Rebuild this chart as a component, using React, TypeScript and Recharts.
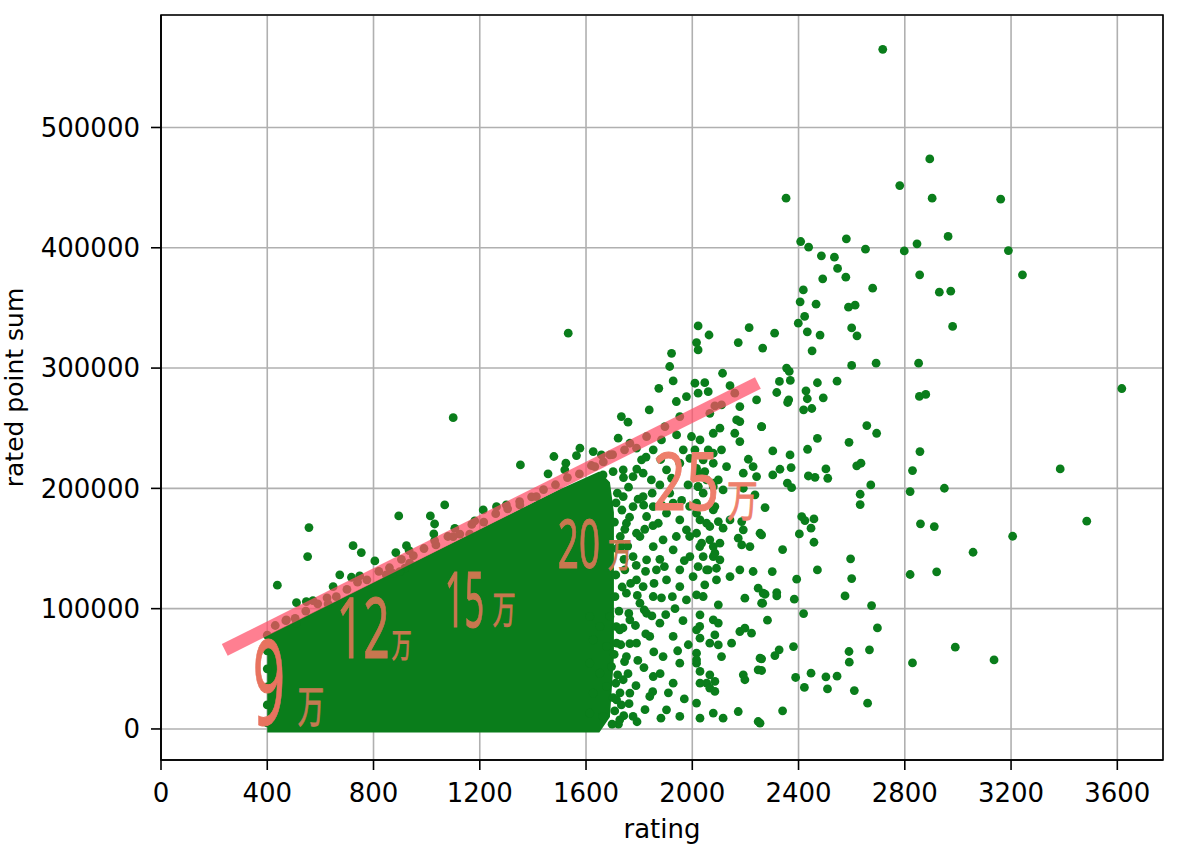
import React from "react";
import {
  ComposedChart,
  Area,
  Scatter,
  XAxis,
  YAxis,
  CartesianGrid,
  ReferenceLine,
  ReferenceArea,
  ReferenceDot,
} from "recharts";

const xTicks = [0, 400, 800, 1200, 1600, 2000, 2400, 2800, 3200, 3600];
const yTicks = [0, 100000, 200000, 300000, 400000, 500000];

// solid part of the cloud (too dense to see single dots)
const coreRatings = [400, 500, 600, 700, 800, 900, 1000, 1100, 1200, 1300, 1400, 1500, 1600, 1650, 1690, 1705];
const coreLow = [-3000, -3000, -3000, -3000, -3000, -3000, -3000, -3000, -3000, -3000, -3000, -3000, -3000, -3000, 10000, 60000];
const coreHigh = [78000, 89000, 100000, 111000, 122000, 133000, 144000, 155000, 166000, 177000, 188000, 199000, 209000, 214000, 205000, 180000];

// points along the edge of the dense cloud and the outliers above it
const leftPoints: [number, number][] = [
  [400, 5000], [400, 20000], [400, 35000], [400, 50000], [400, 65000], [400, 78000],
  [430, 86000], [470, 90000], [505, 92000], [545, 98000], [590, 104000], [625, 109000],
  [660, 110000], [700, 116000], [740, 122000], [775, 124000], [820, 131000], [860, 134000],
  [905, 141000], [950, 144000], [990, 150000], [1035, 153000], [1080, 160000], [1125, 162000],
  [1170, 170000], [1215, 172000], [1260, 179000], [1305, 183000], [1350, 189000], [1395, 193000],
  [1440, 199000], [1485, 203000], [1530, 209000], [1575, 212000], [1620, 219000], [1665, 222000],
  [1700, 228000], [1745, 232000],
  [1100, 258800], [1068, 186200], [895, 177100], [1014, 177100], [1030, 170400], [1027, 162100],
  [1030, 156600], [557, 167400], [552, 143300], [438, 119500], [723, 152400], [754, 146600],
  [805, 139700], [884, 146600], [924, 152400], [934, 148300], [936, 137800], [918, 133600],
  [1106, 166800], [1100, 159900], [1162, 161900], [1181, 172900], [1213, 182100], [1263, 184800],
  [1300, 186200], [1351, 186200], [1413, 193200], [648, 118400], [673, 128100], [717, 126100],
  [748, 127200], [510, 105100], [547, 105900], [572, 106700], [629, 103900], [472, 90700],
  [510, 87900], [848, 128100], [874, 129400], [899, 130800],
  [1353, 219500], [1457, 212100], [1524, 220900], [1520, 215400], [1479, 226500], [1564, 227300],
  [1577, 233400], [1533, 329000],
];

// the looser band between about 1600 and 2250
const midPoints: [number, number][] = [
  [1627, 230600], [1658, 227800], [1690, 227800], [1721, 241700], [1765, 237500], [1790, 233400],
  [1828, 243100], [1853, 232000], [1884, 240300], [1941, 244400], [1966, 232000], [1997, 243100],
  [1953, 220900], [1991, 225000], [2060, 232000], [2079, 220900], [1809, 223700], [1815, 212600],
  [1777, 209800], [1740, 215400], [1702, 214000], [1664, 211200], [1633, 218100], [1903, 215400],
  [1922, 208400], [1878, 202900], [1846, 207000], [2022, 212600], [2054, 207000], [2079, 201500],
  [2022, 201500], [1984, 202900],
  [1815, 193200], [1853, 184900], [1828, 176600], [1872, 171000], [1903, 179400], [1928, 187700],
  [1953, 173800], [1978, 165500], [2016, 179400], [2054, 171000], [2085, 184900], [2066, 157200],
  [2028, 151600], [1991, 143300], [1953, 132300], [1928, 148900], [1890, 157200], [1853, 151600],
  [1828, 140600], [1865, 132300], [1903, 123900], [1953, 118400], [2003, 126700], [2054, 132300],
  [2091, 123900], [2041, 110100], [1978, 107300], [1815, 118400], [1853, 110100], [2079, 143300],
  [1803, 160000],
  [1740, 193200], [1777, 184900], [1752, 171000], [1790, 162700], [1733, 151600], [1777, 143300],
  [1746, 132300], [1790, 123900], [1752, 112900], [1803, 104600],
  [1762, 21000], [1758, 46000], [1765, 71000], [1761, 96000], [1768, 121000], [1757, 152000],
  [1764, 176000], [1760, 201000], [1792, 6000], [1788, 36000], [1795, 57000], [1786, 86000],
  [1793, 111000], [1789, 136000], [1796, 191000], [1791, 216000], [1822, 16000], [1818, 51000],
  [1825, 79000], [1819, 99000], [1824, 131000], [1821, 166000], [1817, 186000], [1826, 226000],
  [1851, 31000], [1855, 64000], [1848, 94000], [1856, 121000], [1852, 169000], [1849, 196000],
  [1882, 9000], [1879, 46000], [1884, 109000], [1878, 141000], [1885, 186000], [1881, 224000],
  [1742, 11000], [1745, 56000], [1739, 84000], [1743, 141000], [1746, 166000], [1741, 209000],
  [1722, 4000], [1728, 30000], [1719, 45000], [1724, 98000], [1712, 128000], [1718, 196000],
  [1708, 15000], [1712, 38000], [1706, 62000], [1714, 85000], [1709, 110000], [1716, 150000],
  [1707, 172000], [1713, 188000], [1733, 20000], [1731, 70000], [1736, 118000], [1729, 160000],
  [1735, 182000], [1698, 4000], [1702, 26000],
  [1900, 95000], [1935, 100000], [1965, 90000], [1990, 160000], [1915, 196000], [1960, 190000],
  [1990, 185000], [1940, 160000], [1895, 135000], [1970, 140000], [1925, 110000], [1985, 70000],
  [1945, 65000], [1910, 30000], [1970, 25000],
  [1614, 93500], [1652, 85200], [1690, 93500], [1727, 82400], [1765, 90700], [1627, 74100],
  [1677, 68600], [1715, 71300], [1752, 60200], [1790, 71300], [1614, 54700], [1652, 46400],
  [1696, 51900], [1740, 40900], [1627, 29800], [1677, 35300], [1715, 24200], [1765, 29800],
  [1614, 13200], [1664, 10400], [1727, 7600], [1777, 10400], [1828, 96200], [1878, 87900],
  [1840, 76900], [1928, 76900], [1890, 60200], [1953, 54700], [1853, 43600], [1928, 38100],
  [1840, 27000], [1903, 15900], [1953, 10400], [2028, 85200], [2066, 71300], [2016, 54700],
  [2054, 38100], [2016, 21500], [2079, 13200],
  [1922, 312300], [1915, 301300], [1928, 289300], [1874, 283200], [1940, 272200], [1838, 265200],
  [1733, 259700], [1758, 255000], [1897, 251400], [1978, 276300], [1953, 259700],
  [2022, 335000], [2063, 327500], [2016, 321200], [2022, 315100], [2173, 321200], [2214, 333600],
  [2114, 295700], [2010, 287400], [2047, 287900], [2022, 279100], [2060, 280400], [2142, 285400],
  [2160, 279100], [2085, 268500], [2110, 269400], [2066, 262400], [2242, 273500], [2179, 268000],
  [2167, 256900], [2179, 255500], [2261, 251400], [2160, 245800], [2179, 238900], [2104, 250000],
  [2079, 245800], [2029, 240300], [2010, 232000], [2110, 232000], [2079, 229200], [2041, 223700],
  [2016, 216700], [2211, 224200], [2229, 218100], [2242, 209800], [2192, 212600], [2129, 218100],
  [2047, 214000], [2079, 204300], [2098, 207000], [2022, 201500], [2041, 196000], [2116, 198700],
  [2236, 194600], [2192, 200100], [2016, 187700], [2079, 182100], [2029, 173800], [2066, 168300],
  [2098, 172400], [2116, 166900], [2142, 173800], [2186, 172400], [2192, 165500], [2173, 158600],
  [2186, 153000], [2217, 151600], [2255, 162700], [2016, 162700], [2035, 154400], [2079, 151600],
  [2104, 154400], [2041, 143300], [2085, 146100], [2104, 140600], [2022, 135000], [2060, 132300],
  [2091, 133600], [2142, 126700], [2179, 132300], [2229, 130900], [2047, 119800], [2016, 111500],
  [2198, 108700], [2248, 117000], [2267, 112900], [2261, 104600], [2098, 103200], [2029, 94900],
  [2079, 90700], [2098, 88000], [2179, 81000], [2198, 83800], [2223, 79600], [2016, 82400],
  [2085, 78200], [2029, 75500], [2148, 71300], [2098, 69900], [2016, 63000], [2110, 60200],
  [2255, 58800], [2248, 49200], [2016, 57500], [2029, 47800], [2066, 45000], [2085, 39500],
  [2029, 38100], [2066, 33900], [2085, 31200], [2192, 45000], [2198, 40900], [2173, 14500],
  [2116, 9000], [2029, 9000], [2248, 6200],
];

// scattered high-rating users
const highPoints: [number, number][] = [
  [2717, 565000], [2353, 441200], [2894, 473900], [2781, 451700], [2903, 441200], [3161, 440400],
  [2408, 405200], [2438, 400500], [2580, 407400], [2652, 398800], [2798, 397400], [2846, 403300],
  [2963, 409400], [3190, 397700], [2486, 393300], [2535, 392200], [2547, 382800], [2578, 375600],
  [2491, 374200], [2856, 377500], [3243, 377500], [2679, 366400], [2930, 363100], [2973, 363900],
  [2418, 365000], [2406, 355100], [2466, 353100], [2588, 350600], [2613, 352300], [2423, 342900],
  [2399, 337300], [2433, 330100], [2481, 327400], [2600, 333400], [2620, 326800], [2980, 334600],
  [2310, 329000], [2265, 316600], [2451, 314300], [2355, 300000], [2365, 297200], [2600, 302200],
  [2692, 304100], [2852, 304100], [2328, 288900], [2369, 289700], [2471, 287800], [2545, 289100],
  [2318, 279700], [2428, 281100], [2433, 274500], [2363, 273600], [2359, 271400], [2493, 275300],
  [2855, 276400], [2879, 278100], [3617, 283000], [2419, 265300], [2450, 266400],
  [2261, 251300], [2657, 252200], [2694, 245800], [2471, 241600], [2590, 238300], [2434, 232500],
  [2857, 230600], [2303, 231100], [2368, 227800], [2330, 215900], [2372, 217300], [2303, 211200],
  [2503, 216200], [2510, 208400], [2437, 210300], [2462, 209200], [2619, 218700], [2635, 220900],
  [2829, 214800], [3385, 216200], [2358, 204300], [2374, 200600], [2672, 202900], [2820, 197300],
  [2949, 200100], [2632, 195100], [2632, 186500], [2274, 184000], [2412, 176500], [2424, 173200],
  [2458, 174600], [2447, 166900], [2261, 161300], [2403, 162100], [2458, 155200], [2859, 170500],
  [2911, 168200], [3485, 172700], [3206, 160200], [3057, 146900], [2340, 149100], [2596, 141400],
  [2471, 132200], [2301, 130800], [2600, 125000], [2393, 124500], [2820, 128400], [2920, 130600],
  [2274, 112000], [2318, 113400], [2318, 110600], [2265, 104500], [2384, 107900], [2575, 110600],
  [2675, 102600], [2419, 95900], [2283, 90400], [2697, 84000], [2381, 68500], [2327, 65800],
  [2311, 61000], [2261, 58300], [2261, 48600], [2590, 64400], [2591, 55500], [2667, 65800],
  [2990, 68000], [2829, 54900], [3136, 57400], [2389, 42800], [2422, 34500], [2447, 46400],
  [2503, 43300], [2509, 33300], [2545, 43900], [2610, 31900], [2660, 21400], [2340, 15100],
  [2255, 4800],
];

// hand-drawn guide line and its notes
const guideStart = { rating: 240, sum: 65700 };
const guideEnd = { rating: 2247, sum: 287600 };

const notes = [
  { text: "9", rating: 345, sum: 3300, size: 118, sx: 0.48, color: "#e8735f" },
  { text: "万", rating: 515, sum: 5000, size: 44, sx: 0.6, color: "#c47a52" },
  { text: "12", rating: 662, sum: 59000, size: 84, sx: 0.55, color: "#c8774f" },
  { text: "万", rating: 869, sum: 59900, size: 33, sx: 0.6, color: "#c8774f" },
  { text: "15", rating: 1068, sum: 84800, size: 77, sx: 0.45, color: "#c8774f" },
  { text: "万", rating: 1249, sum: 88500, size: 38, sx: 0.6, color: "#c8774f" },
  { text: "20", rating: 1494, sum: 133800, size: 67, sx: 0.55, color: "#c8774f" },
  { text: "万", rating: 1683, sum: 134700, size: 34, sx: 0.7, color: "#c8774f" },
  { text: "25", rating: 1851, sum: 182000, size: 81, sx: 0.72, color: "#ee7f6c" },
  { text: "万", rating: 2131, sum: 176200, size: 44, sx: 0.7, color: "#ee7f6c" },
];

const GREEN = "#0a7d1b";
const FONT = "DejaVu Sans";

const coreRows = coreRatings.map((rating, i) => ({ rating, band: [coreLow[i], coreHigh[i]] }));
const points = [...leftPoints, ...midPoints, ...highPoints].map(([rating, sum]) => ({ rating, sum }));

const Dot = (props: any) => <circle cx={props.cx} cy={props.cy} r={4.4} fill={GREEN} />;

const YTitle = (props: any) => {
  const vb = props.viewBox || { x: 0, y: 15, width: 161, height: 745 };
  const cx = vb.x + 14;
  const cy = vb.y + vb.height / 2;
  return (
    <text
      x={cx}
      y={cy}
      transform={`rotate(-90 ${cx} ${cy})`}
      textAnchor="middle"
      dominantBaseline="central"
      fontSize={25}
      fontFamily={FONT}
      fill="#000"
    >
      rated point sum
    </text>
  );
};

const Note = (note: (typeof notes)[number]) => (props: any) => (
  <text
    transform={`translate(${props.cx} ${props.cy}) scale(${note.sx} 1)`}
    fontSize={note.size}
    fontFamily="Noto Sans, Noto Sans CJK JP"
    fontWeight={400}
    fill={note.color}
    stroke={note.color}
    strokeWidth={1}
  >
    {note.text}
  </text>
);

export default function App() {
  return (
    <div style={{ position: "absolute", left: 0, top: 0, background: "#fff" }}>
      <ComposedChart width={1200} height={858} margin={{ top: 15, right: 37, bottom: 0, left: 0 }}>
        <CartesianGrid stroke="#b0b0b0" strokeWidth={1.6} />
        <XAxis
          dataKey="rating"
          type="number"
          domain={[0, 3772]}
          ticks={xTicks}
          interval={0}
          allowDataOverflow
          height={98}
          tickSize={10}
          tickMargin={14}
          axisLine={{ stroke: "#000", strokeWidth: 1.6 }}
          tickLine={{ stroke: "#000", strokeWidth: 1.6 }}
          tick={{ fill: "#000", fontSize: 26, fontFamily: FONT }}
          label={{ value: "rating", position: "insideBottom", offset: 20, fill: "#000", fontSize: 26, fontFamily: FONT }}
        />
        <YAxis
          dataKey="sum"
          type="number"
          domain={[-25800, 593500]}
          ticks={yTicks}
          interval={0}
          allowDataOverflow
          width={161}
          tickSize={10}
          tickMargin={11}
          axisLine={{ stroke: "#000", strokeWidth: 1.6 }}
          tickLine={{ stroke: "#000", strokeWidth: 1.6 }}
          tick={{ fill: "#000", fontSize: 26, fontFamily: FONT }}
          label={<YTitle />}
        />
        <ReferenceArea x1={0} x2={3772} y1={-25800} y2={593500} fill="none" stroke="#000" strokeWidth={1.6} />
        <Area data={coreRows} dataKey="band" type="linear" fill={GREEN} fillOpacity={1} stroke="none" isAnimationActive={false} />
        <Scatter data={points} dataKey="sum" shape={Dot} isAnimationActive={false} />
        <ReferenceLine
          segment={[
            { x: guideStart.rating, y: guideStart.sum },
            { x: guideEnd.rating, y: guideEnd.sum },
          ]}
          stroke="#ff4d66"
          strokeOpacity={0.72}
          strokeWidth={13}
          zIndex={1000}
        />
        {notes.map((n, i) => (
          <ReferenceDot key={i} x={n.rating} y={n.sum} r={0} shape={Note(n)} zIndex={1100} />
        ))}
      </ComposedChart>
    </div>
  );
}
